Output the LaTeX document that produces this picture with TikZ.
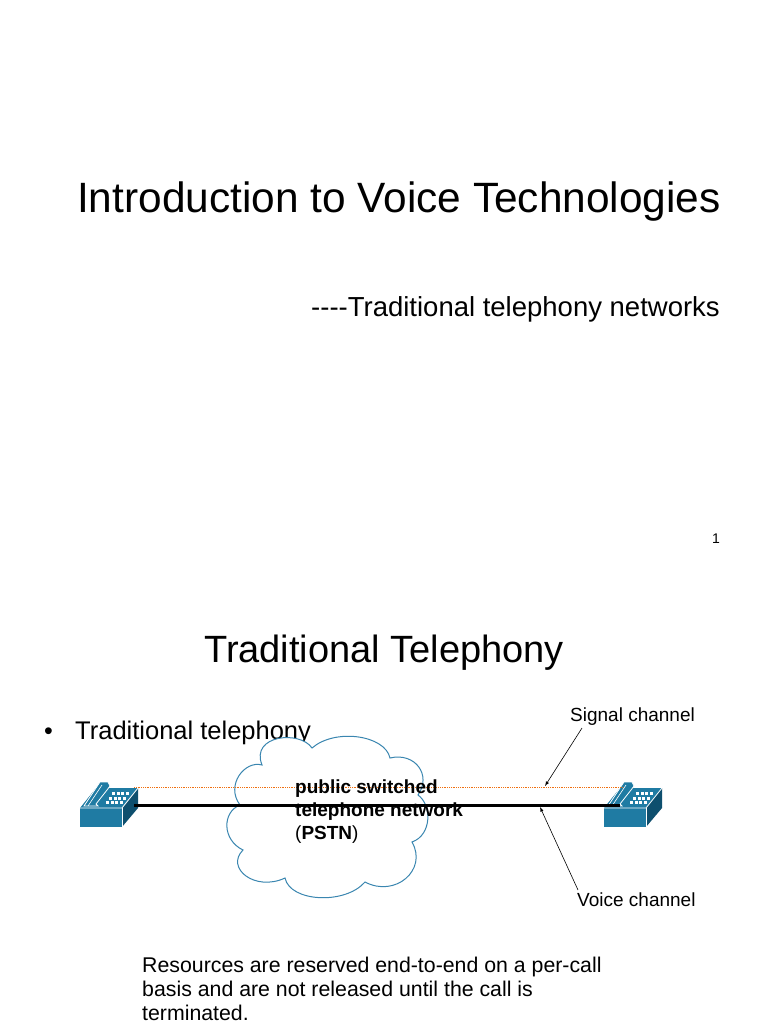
\documentclass[tikz,border=0pt]{standalone}
\usepackage{fontspec}
\setmainfont{Liberation Sans}
\definecolor{phone}{HTML}{1F7BA3}
\definecolor{phdark}{HTML}{0E4F6E}
\definecolor{cloudc}{HTML}{3A86B0}
\definecolor{sig}{HTML}{F07010}
\begin{document}
\begin{tikzpicture}[x=1pt,y=-1pt,
  lbl/.style={anchor=west,inner sep=0pt,font=\fontsize{19}{22}\selectfont},
  phoneset/.pic={
    \fill[phone] (0,24) -- (42,24) -- (42,43) -- (0,43) -- cycle;
    \fill[phone] (0,24) -- (16,4) -- (58,4) -- (42,24) -- cycle;
    \fill[phdark] (42,24) -- (58,4) -- (58,24) -- (42,43) -- cycle;
    \draw[white,line width=0.8pt] (0,24) -- (42,24) -- (58,4);
    \draw[white,line width=0.8pt] (42,24) -- (42,43);
    % handset
    \draw[white,line width=0.8pt,fill=phone] (4,22) -- (20,-2) -- (28,-2) -- (30,2) -- (27,6) -- (16,20) -- (18,22) -- cycle;
    \draw[white,line width=0.6pt] (8,22) -- (22,1);
    % keypad
    \foreach \i in {0,1,2,3} \foreach \j in {0,1,2}
      \fill[white] (26+\i*4.6+\j*3,20-\j*4.5) rectangle ++(3.2,-3);
  }]
\useasboundingbox (0,0) rectangle (768,1024);
\fill[white] (0,0) rectangle (768,1024);
\node[anchor=base west,inner sep=0pt,font=\fontsize{42.4}{46}\selectfont] (title) at (77,213) {Introduction to Voice Technologies};
\node[anchor=base east,inner sep=0pt,font=\fontsize{27.5}{30}\selectfont] (sub) at (720,316) {{-}{-}{-}{-}Traditional telephony networks};
\node[anchor=base east,inner sep=0pt,font=\fontsize{14}{16}\selectfont] (pg) at (720,543) {1};
\node[anchor=base west,inner sep=0pt,font=\fontsize{38}{42}\selectfont] (t2) at (204,662) {Traditional Telephony};
\node[anchor=base west,inner sep=0pt,font=\fontsize{25}{28}\selectfont] (bul) at (44,739) {\textbullet};
\node[anchor=base west,inner sep=0pt,font=\fontsize{25.5}{28}\selectfont] (tt) at (75,739) {Traditional telephony};
% cloud
\draw[cloudc,line width=1pt,fill=white]
 (262,765) .. controls (250,735) and (300,730) .. (312,748)
 .. controls (335,728) and (385,735) .. (390,758)
 .. controls (415,752) and (432,775) .. (418,795)
 .. controls (432,805) and (432,835) .. (412,842)
 .. controls (428,870) and (395,898) .. (365,882)
 .. controls (345,905) and (290,902) .. (285,878)
 .. controls (255,892) and (225,868) .. (243,850)
 .. controls (222,840) and (222,812) .. (240,805)
 .. controls (225,785) and (245,760) .. (262,765) -- cycle;
\pic at (80,784) {phoneset};
\pic at (604,784) {phoneset};
\coordinate (sl) at (134,787);
\coordinate (sr) at (622,787);
\coordinate (vl) at (134,805);
\coordinate (vr) at (620,805);
\draw[sig,densely dotted,line width=0.8pt] (sl) -- (sr);
\draw[black,line width=3pt] (vl) -- (vr);
\node[anchor=north west,inner sep=0pt,align=left,font=\fontsize{19}{23}\selectfont\bfseries] (pstn) at (295,780) {public switched\\telephone network\\{\mdseries(}PSTN{\mdseries)}};
\node[lbl] (sc) at (570,717) {Signal channel};
\node[lbl] (vc) at (577,900) {Voice channel};
\coordinate (sa) at (545,786);
\coordinate (va) at (540,807);
\draw[-latex,line width=0.6pt] (582,728) -- (sa);
\draw[-latex,line width=0.6pt] (578,890) -- (va);
\node[anchor=north west,inner sep=0pt,align=left,font=\fontsize{21.3}{24}\selectfont] (res) at (142,957) {Resources are reserved end-to-end on a per-call\\basis and are not released until the call is\\terminated.};
\end{tikzpicture}
\end{document}
